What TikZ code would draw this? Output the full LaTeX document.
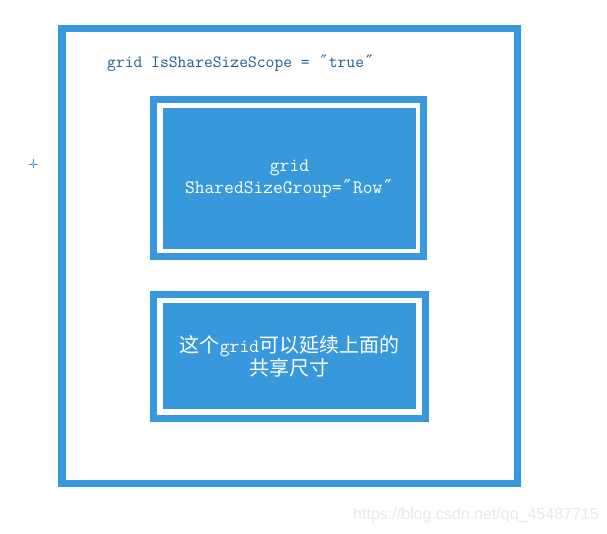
\documentclass[tikz,border=0pt]{standalone}
\usepackage{fontspec}
\newfontfamily\cjk{Noto Sans CJK SC}
\newfontfamily\wmfont{Liberation Sans}
\newfontfamily\qfont{DejaVu Sans Mono}
\newcommand{\dq}{{\qfont ″}}
\definecolor{boxblue}{HTML}{3799DB}
\definecolor{textblue}{HTML}{1F5F8F}
\definecolor{wmgray}{HTML}{E8E8E8}
\definecolor{plusblue}{HTML}{4A8FD9}
\tikzset{
  borderline/.style={draw=boxblue, line width=7pt},
  fillbox/.style={fill=boxblue, draw=none, inner sep=0pt, text=white, align=center,
    minimum width=253pt, font=\ttfamily\fontsize{19}{22}\selectfont},
  labeltext/.style={inner sep=0pt, text=textblue, font=\ttfamily\fontsize{17.1}{18}\selectfont},
}
\begin{document}
\begin{tikzpicture}[x=1pt,y=-1pt]
\useasboundingbox (0,0) rectangle (607,534);
% outer container
\draw[draw=boxblue, line width=7.5pt] (61.75,28.75) rectangle (517.25,483.25);
\node[labeltext, anchor=base west] (scope) at (107,68) {grid IsShareSizeScope = \dq true\dq};
% box 1
\draw[borderline] (153.5,99.5) rectangle (423.5,256.5);
\node[fillbox, minimum height=141pt] (b1) at (289.5,178.5) {grid\\SharedSizeGroup=\dq Row\dq};
% box 2
\draw[borderline] (153.5,294.5) rectangle (425.5,418.5);
\node[fillbox, minimum height=106pt, font=\fontsize{20}{23}\selectfont] (b2) at (289.5,356)
  {{\cjk 这个}{\ttfamily\fontsize{19}{23}\selectfont grid}{\cjk 可以延续上面的}\\{\cjk 共享尺寸}};
% cursor mark
\coordinate (cur) at (33,164);
\draw[plusblue, line width=0.9pt] ([xshift=-4.5pt]cur) -- ([xshift=4.5pt]cur);
\draw[plusblue, line width=0.9pt] ([yshift=-4.5pt]cur) -- ([yshift=4.5pt]cur);
\node[circle, draw=plusblue, fill=white, line width=0.7pt, inner sep=0pt, minimum size=3pt] (curdot) at (cur) {};
% watermark
\node[inner sep=0pt, text=wmgray, font=\wmfont\fontsize{16}{18}\selectfont] (wm) at (476,515) {https://blog.csdn.net/qq\_45487715};
\end{tikzpicture}
\end{document}
